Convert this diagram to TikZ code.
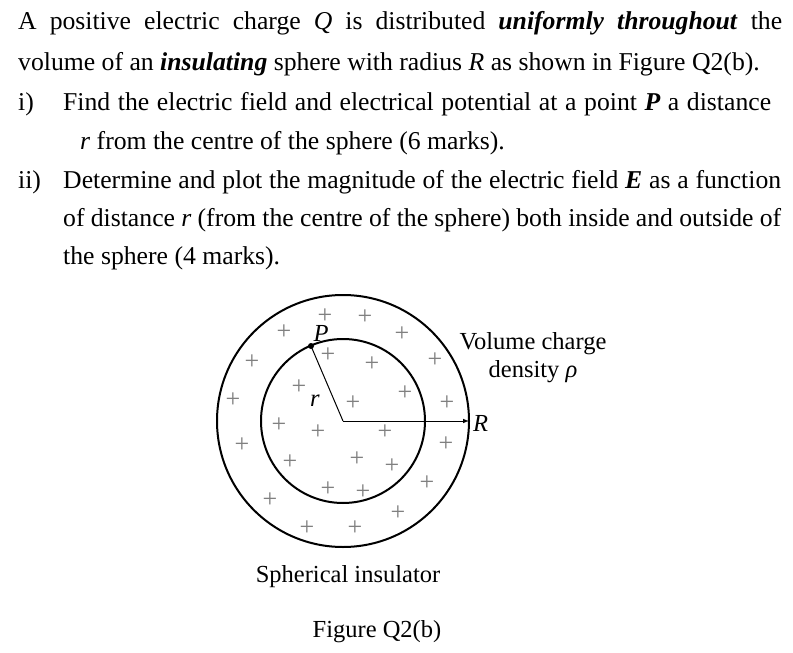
\documentclass[tikz,border=0pt]{standalone}
\usepackage{fontspec}
\setmainfont{Liberation Serif}
\begin{document}
\begin{tikzpicture}[x=1pt,y=-1pt,
  txt/.style={anchor=base west,inner sep=0pt,font=\fontsize{25.7}{30}\selectfont},
  lbl/.style={inner sep=0pt,font=\fontsize{24.5}{28}\selectfont},
  pl/.style={inner sep=0pt,text=gray,font=\fontsize{26}{30}\selectfont},
  circ/.style={draw,line width=2pt}]
\useasboundingbox (0,0) rectangle (793,653);
\node[txt] (l1) at (18,29) {\makebox[764pt][s]{A positive electric charge \textit{Q} is distributed \textbf{\textit{uniformly throughout}} the}};
\node[txt] (l2) at (18,70) {volume of an \textbf{\textit{insulating}} sphere with radius \textit{R} as shown in Figure Q2(b).};
\node[txt] (l3a) at (18,110) {i)};
\node[txt] (l3) at (63,110) {\makebox[708pt][s]{Find the electric field and electrical potential at a point \textbf{\textit{P}} a distance}};
\node[txt] (l4) at (80,149) {\textit{r} from the centre of the sphere (6 marks).};
\node[txt] (l5a) at (18,188) {ii)};
\node[txt] (l5) at (63,188) {\makebox[718pt][s]{Determine and plot the magnitude of the electric field \textbf{\textit{E}} as a function}};
\node[txt] (l6) at (63,226) {\makebox[718pt][s]{of distance \textit{r} (from the centre of the sphere) both inside and outside of}};
\node[txt] (l7) at (63,264) {the sphere (4 marks).};
\coordinate (O) at (343,421);
\draw[circ] (O) circle (126);
\draw[circ] (O) circle (82);
\foreach \x/\y in {325/316,365/317,284/332,402/334,252/362,328/355,372/364,435/360,299/387,405/393,233/400,353/403,447/403,279/425,318/432,385/432,242/445,446/444,290/462,357/459,392/466,427/483,328/489,363/492,270/500,398/513,307/528,355/528}
  \node[pl] at (\x,\y) {+};
\coordinate (P) at (311,346);
\coordinate (E) at (469,421);
\fill (P) circle (3);
\draw[line width=1pt] (O) -- (P);
\draw[line width=1pt,-latex] (O) -- (E);
\node[lbl] (Pl) at (321,333) {\textit{P}};
\node[lbl] (rl) at (315,401) {\textit{r}};
\node[lbl,anchor=west] (Rl) at (473,423) {\textit{R}};
\node[lbl,align=center] (vc) at (533,358) {Volume charge\\density \textit{ρ}};
\node[lbl] (si) at (348,577) {Spherical insulator};
\node[lbl] (fig) at (377,632) {Figure Q2(b)};
\end{tikzpicture}
\end{document}
